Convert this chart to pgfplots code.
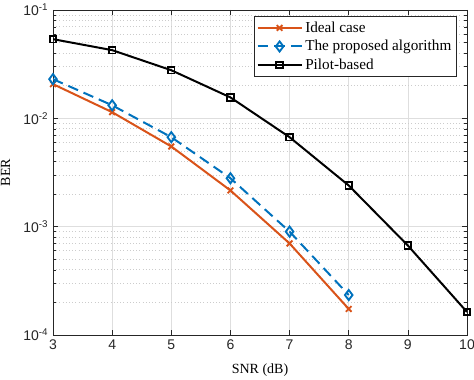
\documentclass[border=0pt]{standalone}
\usepackage{fontspec}
\setmainfont{Liberation Sans}
\newfontfamily\tnr{Liberation Serif}
\usepackage{pgfplots}
\pgfplotsset{compat=1.18}
\definecolor{mOrange}{rgb}{0.85,0.325,0.098}
\definecolor{mBlue}{rgb}{0,0.447,0.741}
\definecolor{axc}{rgb}{0.15,0.15,0.15}
\begin{document}
\begin{tikzpicture}
\begin{axis}[
  scale only axis,
  width=310.5pt, height=243.75pt,
  ymode=log,
  xmin=3, xmax=10, ymin=1e-4, ymax=1e-1,
  xtick={3,4,5,6,7,8,9,10},
  ytick={1e-4,1e-3,1e-2,1e-1},
  yticklabels={10\textsuperscript{-4},10\textsuperscript{-3},10\textsuperscript{-2},10\textsuperscript{-1}},
  /pgf/number format/assume math mode=true,
  tick label style={font=\fontsize{10.5}{12}\selectfont, color=axc},
  tick align=inside, tick pos=both,
  axis line style={color=axc, line width=0.5pt},
  every tick/.style={color=axc},
  major tick length=4pt, minor tick length=2pt,
  grid=major,
  ymajorgrids, yminorgrids,
  major grid style={color=black!13, line width=0.5pt},
  minor grid style={color=black!20, dotted, line width=0.5pt},
  xlabel={\tnr SNR (dB)},
  ylabel={\tnr BER},
  label style={font=\fontsize{10.5}{12}\selectfont},
  xlabel style={yshift=-3.5pt},
  ylabel style={yshift=3pt},
  legend style={at={(1,1)}, xshift=-7.5pt, yshift=-4.5pt, anchor=north east, font=\tnr\fontsize{11.4}{12}\selectfont, draw=axc, line width=0.5pt, row sep=0.5pt, inner sep=2pt},
  legend cell align=left,
  legend image code/.code={\draw[mark repeat=2,mark phase=2,#1] plot coordinates {(0cm,0cm) (0.58cm,0cm) (1.16cm,0cm)};},
]
\addplot[color=mOrange, line width=1.5pt, mark=x, mark size=3pt, mark options={solid, line width=1.4pt}]
 coordinates {(3,0.0207) (4,0.0114) (5,0.0055) (6,0.00216) (7,0.00070) (8,0.000174)};
\addlegendentry{Ideal case}
\addplot[color=mBlue, line width=1.5pt, dash pattern=on 8pt off 4.5pt, mark=diamond, mark size=3.8pt, mark options={solid, line width=1.4pt}]
 coordinates {(3,0.0230) (4,0.0132) (5,0.0067) (6,0.0028) (7,0.00090) (8,0.000234)};
\addlegendentry{The proposed algorithm}
\addplot[color=black, line width=1.5pt, mark=square, mark size=2.5pt, mark options={solid, line width=1.3pt}]
 coordinates {(3,0.0538) (4,0.0426) (5,0.0278) (6,0.0156) (7,0.0067) (8,0.0024) (9,0.00067) (10,0.000163)};
\addlegendentry{Pilot-based}
\end{axis}
\pgfresetboundingbox
\path ([xshift=-39.75pt, yshift=-33pt]current axis.south west) rectangle ([xshift=5.25pt, yshift=7.5pt]current axis.north east);
\end{tikzpicture}
\end{document}
